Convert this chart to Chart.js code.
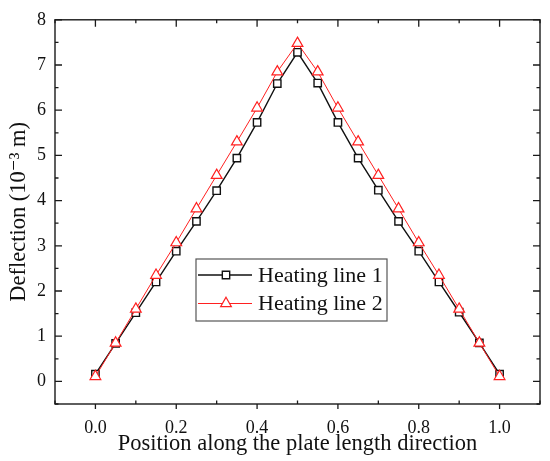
<!DOCTYPE html>
<html>
<head>
<meta charset="utf-8">
<script src="https://cdn.jsdelivr.net/npm/chart.js@4.4.0/dist/chart.umd.min.js"></script>
<style>
html,body{margin:0;padding:0;background:#fff;}
#wrap{width:550px;height:461px;}
</style>
</head>
<body>
<div id="wrap"><canvas id="c" width="550" height="461"></canvas></div>
<script>
const positions = [0, 0.05, 0.1, 0.15, 0.2, 0.25, 0.3, 0.35, 0.4, 0.45, 0.5, 0.55, 0.6, 0.65, 0.7, 0.75, 0.8, 0.85, 0.9, 0.95, 1.0];
const heatingLine1 = [0.16, 0.84, 1.52, 2.2, 2.88, 3.54, 4.22, 4.94, 5.73, 6.59, 7.28, 6.6, 5.73, 4.94, 4.23, 3.54, 2.88, 2.2, 1.53, 0.85, 0.16];
const heatingLine2 = [0.11, 0.85, 1.6, 2.35, 3.07, 3.82, 4.56, 5.3, 6.05, 6.85, 7.48, 6.85, 6.05, 5.3, 4.56, 3.82, 3.07, 2.35, 1.6, 0.85, 0.11];
const xTicks = [0, 0.2, 0.4, 0.6, 0.8, 1.0];
const xMinorTicks = [-0.1, 0.1, 0.3, 0.5, 0.7, 0.9, 1.1];
const yTicks = [0, 1, 2, 3, 4, 5, 6, 7, 8];
const yMinorTicks = [-0.5, 0.5, 1.5, 2.5, 3.5, 4.5, 5.5, 6.5, 7.5];
const seriesLabels = ['Heating line 1', 'Heating line 2'];
const xTitle = 'Position along the plate length direction';
const yTitle = 'Deflection (10\u207B\u00B3 m)';

const SERIF = '"Liberation Serif", "DejaVu Serif", serif';

const framePlugin = {
  id: 'frame',
  afterDraw(chart) {
    const ctx = chart.ctx;
    const a = chart.chartArea;
    const xs = chart.scales.x, ys = chart.scales.y;
    ctx.save();
    ctx.strokeStyle = '#1a1a1a';
    ctx.lineWidth = 1.4;
    ctx.strokeRect(a.left, a.top, a.right - a.left, a.bottom - a.top);
    ctx.lineWidth = 1.3;
    ctx.beginPath();
    xTicks.forEach(v => {
      const px = xs.getPixelForValue(v);
      ctx.moveTo(px, a.bottom); ctx.lineTo(px, a.bottom + 5);
      ctx.moveTo(px, a.top); ctx.lineTo(px, a.top + 7);
    });
    xMinorTicks.forEach(v => {
      const px = xs.getPixelForValue(v);
      ctx.moveTo(px, a.bottom); ctx.lineTo(px, a.bottom - 3.5);
      ctx.moveTo(px, a.top); ctx.lineTo(px, a.top + 3.5);
    });
    yTicks.forEach(v => {
      const py = ys.getPixelForValue(v);
      ctx.moveTo(a.left, py); ctx.lineTo(a.left + 7, py);
      ctx.moveTo(a.right, py); ctx.lineTo(a.right - 7, py);
    });
    yMinorTicks.forEach(v => {
      const py = ys.getPixelForValue(v);
      ctx.moveTo(a.left, py); ctx.lineTo(a.left + 3.5, py);
      ctx.moveTo(a.right, py); ctx.lineTo(a.right - 3.5, py);
    });
    ctx.stroke();

    // legend box
    const lx = 196, ly = 259, lw = 191, lh = 62;
    ctx.fillStyle = '#fff';
    ctx.fillRect(lx, ly, lw, lh);
    ctx.strokeStyle = '#555';
    ctx.lineWidth = 1.2;
    ctx.strokeRect(lx, ly, lw, lh);
    chart.data.datasets.forEach((ds, i) => {
      const y = ly + 16 + i * 28.5;
      ctx.strokeStyle = ds.borderColor;
      ctx.lineWidth = ds.borderWidth;
      ctx.beginPath();
      ctx.moveTo(lx + 2, y); ctx.lineTo(lx + 56, y);
      ctx.stroke();
      ctx.fillStyle = '#fff';
      ctx.strokeStyle = ds.borderColor;
      ctx.lineWidth = ds.pointBorderWidth;
      Chart.helpers.drawPoint(ctx, {
        pointStyle: ds.pointStyle, rotation: 0, radius: ds.pointRadius,
        borderWidth: ds.pointBorderWidth
      }, lx + 30, y);
      ctx.fillStyle = '#111';
      ctx.font = '22px ' + SERIF;
      ctx.textBaseline = 'middle';
      ctx.textAlign = 'left';
      ctx.fillText(ds.label, lx + 62, y + 1);
    });
    ctx.restore();
  }
};

new Chart(document.getElementById('c'), {
  type: 'line',
  data: {
    datasets: [
      {
        label: seriesLabels[0],
        data: positions.map((x, i) => ({x, y: heatingLine1[i]})),
        borderColor: '#111111',
        backgroundColor: '#ffffff',
        pointBackgroundColor: '#ffffff',
        borderWidth: 1.4,
        pointBorderWidth: 1.4,
        pointStyle: 'rect',
        pointRadius: 5.2,
        order: 1
      },
      {
        label: seriesLabels[1],
        data: positions.map((x, i) => ({x, y: heatingLine2[i]})),
        borderColor: '#ff2020',
        backgroundColor: '#ffffff',
        pointBackgroundColor: '#ffffff',
        borderWidth: 1,
        pointBorderWidth: 1.2,
        pointStyle: 'triangle',
        pointRadius: 6.2,
        order: 0
      }
    ]
  },
  options: {
    responsive: false,
    animation: false,
    devicePixelRatio: 1,
    layout: { padding: { top: 13, right: 10, left: 0, bottom: 0 } },
    plugins: { legend: { display: false }, tooltip: { enabled: false } },
    scales: {
      x: {
        type: 'linear',
        min: -0.1, max: 1.1,
        afterBuildTicks: s => { s.ticks = xTicks.map(v => ({value: v})); },
        afterFit: s => { s.height = 57; },
        grid: { display: false, drawTicks: false },
        border: { display: false },
        ticks: {
          color: '#111', padding: 13,
          font: { family: SERIF, size: 18 },
          callback: v => v.toFixed(1)
        },
        title: {
          display: true, text: xTitle, color: '#111',
          font: { family: SERIF, size: 22.5 },
          padding: { top: 0, bottom: 3 }
        }
      },
      y: {
        type: 'linear',
        min: -0.5, max: 8,
        afterBuildTicks: s => { s.ticks = yTicks.map(v => ({value: v})); },
        afterFit: s => { s.width = 55; },
        grid: { display: false, drawTicks: false },
        border: { display: false },
        ticks: {
          color: '#111', padding: 9,
          font: { family: SERIF, size: 18 },
          callback: v => String(v)
        },
        title: {
          display: true, text: yTitle, color: '#111',
          font: { family: SERIF, size: 22.5 },
          padding: { top: 6, bottom: 0 }
        }
      }
    }
  },
  plugins: [framePlugin]
});
</script>
</body>
</html>
